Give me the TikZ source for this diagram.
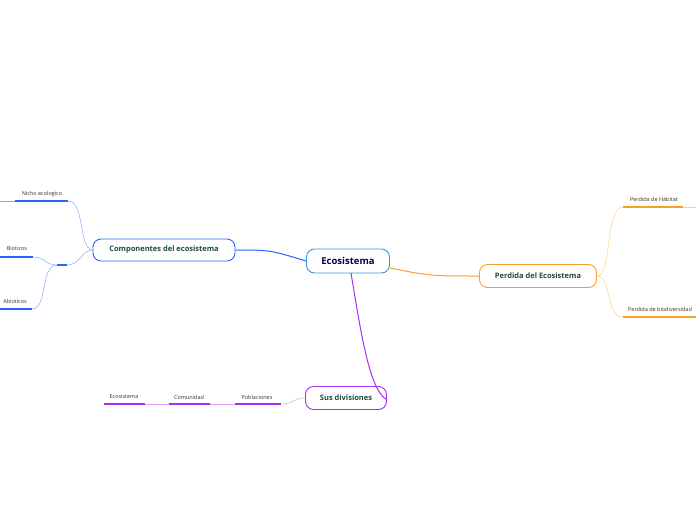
\documentclass[tikz,border=0pt]{standalone}
\usepackage{fontspec}
\setmainfont{Open Sans}
\definecolor{cblue}{HTML}{2962FF}
\definecolor{lblue}{HTML}{82A8FF}
\definecolor{cteal}{HTML}{3A95D6}
\definecolor{corange}{HTML}{F9A02A}
\definecolor{lorange}{HTML}{FFD08A}
\definecolor{cpurple}{HTML}{A630F5}
\definecolor{lpurple}{HTML}{D9A0FA}
\definecolor{tgreen}{HTML}{1E4A3A}
\begin{document}
\begin{tikzpicture}[x=1pt,y=-1pt,
  main/.style={draw,rounded corners=8pt,line width=0.9pt,font=\bfseries\fontsize{7.5}{8}\selectfont,text=tgreen,minimum height=22pt,inner xsep=0pt},
  leaf/.style={font=\fontsize{5.5}{6}\selectfont,text=black!80,inner sep=0pt},
  under/.style={line width=1.4pt}]
\useasboundingbox (0,0) rectangle (696,520);
\node[main,draw=cteal,minimum width=83pt,minimum height=24pt,text=black!70!blue,font=\bfseries\fontsize{9.5}{10}\selectfont] (eco) at (348,261) {Ecosistema};
\node[main,draw=cblue,minimum width=142pt] (comp) at (164,250) {Componentes del ecosistema};
\node[main,draw=corange,minimum width=117pt,minimum height=23pt] (perd) at (538,276) {Perdida del Ecosistema};
\node[main,draw=cpurple,minimum width=81pt,minimum height=23pt] (sus) at (346,398) {Sus divisiones};
% leaves
\node[leaf] (nicho) at (42,194) {Nicho ecologico};
\node[leaf] (biot) at (17,249) {Bioticos};
\node[leaf] (abio) at (15,301) {Abioticos};
\node[leaf] (hab) at (654,199) {Perdida de Hábitat};
\node[leaf] (biod) at (660,309) {Perdida de biodiversidad};
\node[leaf] (pobl) at (257,397) {Poblaciones};
\node[leaf] (comu) at (189,397) {Comunidad};
\node[leaf] (ecol) at (124,397) {Ecosistema};
\coordinate (n1) at (15,201); \coordinate (n2) at (68,201); \coordinate (n0) at (0,201);
\coordinate (b1) at (0,257); \coordinate (b2) at (33,257);
\coordinate (a1) at (0,309); \coordinate (a2) at (32,309);
\coordinate (j1) at (57,265); \coordinate (j2) at (67,265);
\coordinate (h1) at (623,207); \coordinate (h2) at (683,207); \coordinate (h3) at (696,207);
\coordinate (d1) at (623,317); \coordinate (d2) at (696,317);
\coordinate (p1) at (235,404); \coordinate (p2) at (281,404);
\coordinate (c1) at (169,404); \coordinate (c2) at (210,404);
\coordinate (e1) at (104,404); \coordinate (e2) at (145,404);
% main connectors
\draw[cblue,line width=1pt] (comp.east) .. controls (270,250) .. (eco.west);
\draw[corange,line width=1pt] (390,268) .. controls (430,276) .. (perd.west);
\draw[cpurple,line width=1pt] (351,273) .. controls (362,340) and (370,390) .. (387,400);
% leaf lines
\draw[cblue,under] (n1)--(n2) (b1)--(b2) (a1)--(a2) (j1)--(j2);
\draw[lblue,line width=0.5pt] (n0)--(n1);
\draw[lblue,line width=0.5pt] (n2) .. controls (85,201) and (78,248) .. (comp.west);
\draw[lblue,line width=0.5pt] (j2) .. controls (80,265) and (82,250) .. (comp.west);
\draw[lblue,line width=0.5pt] (b2) .. controls (45,257) and (45,265) .. (j1);
\draw[lblue,line width=0.5pt] (a2) .. controls (48,309) and (40,265) .. (j1);
\draw[corange,under] (h1)--(h2) (d1)--(d2);
\draw[lorange,line width=0.5pt] (h2)--(h3);
\draw[lorange,line width=0.5pt] (perd.east) .. controls (612,276) and (605,207) .. (h1);
\draw[lorange,line width=0.5pt] (perd.east) .. controls (612,276) and (605,317) .. (d1);
\draw[cpurple,under] (p1)--(p2) (c1)--(c2) (e1)--(e2);
\draw[lpurple,line width=0.5pt] (e2)--(c1) (c2)--(p1);
\draw[lpurple,line width=0.5pt] (p2) .. controls (295,404) and (292,398) .. (sus.west);
\end{tikzpicture}
\end{document}
